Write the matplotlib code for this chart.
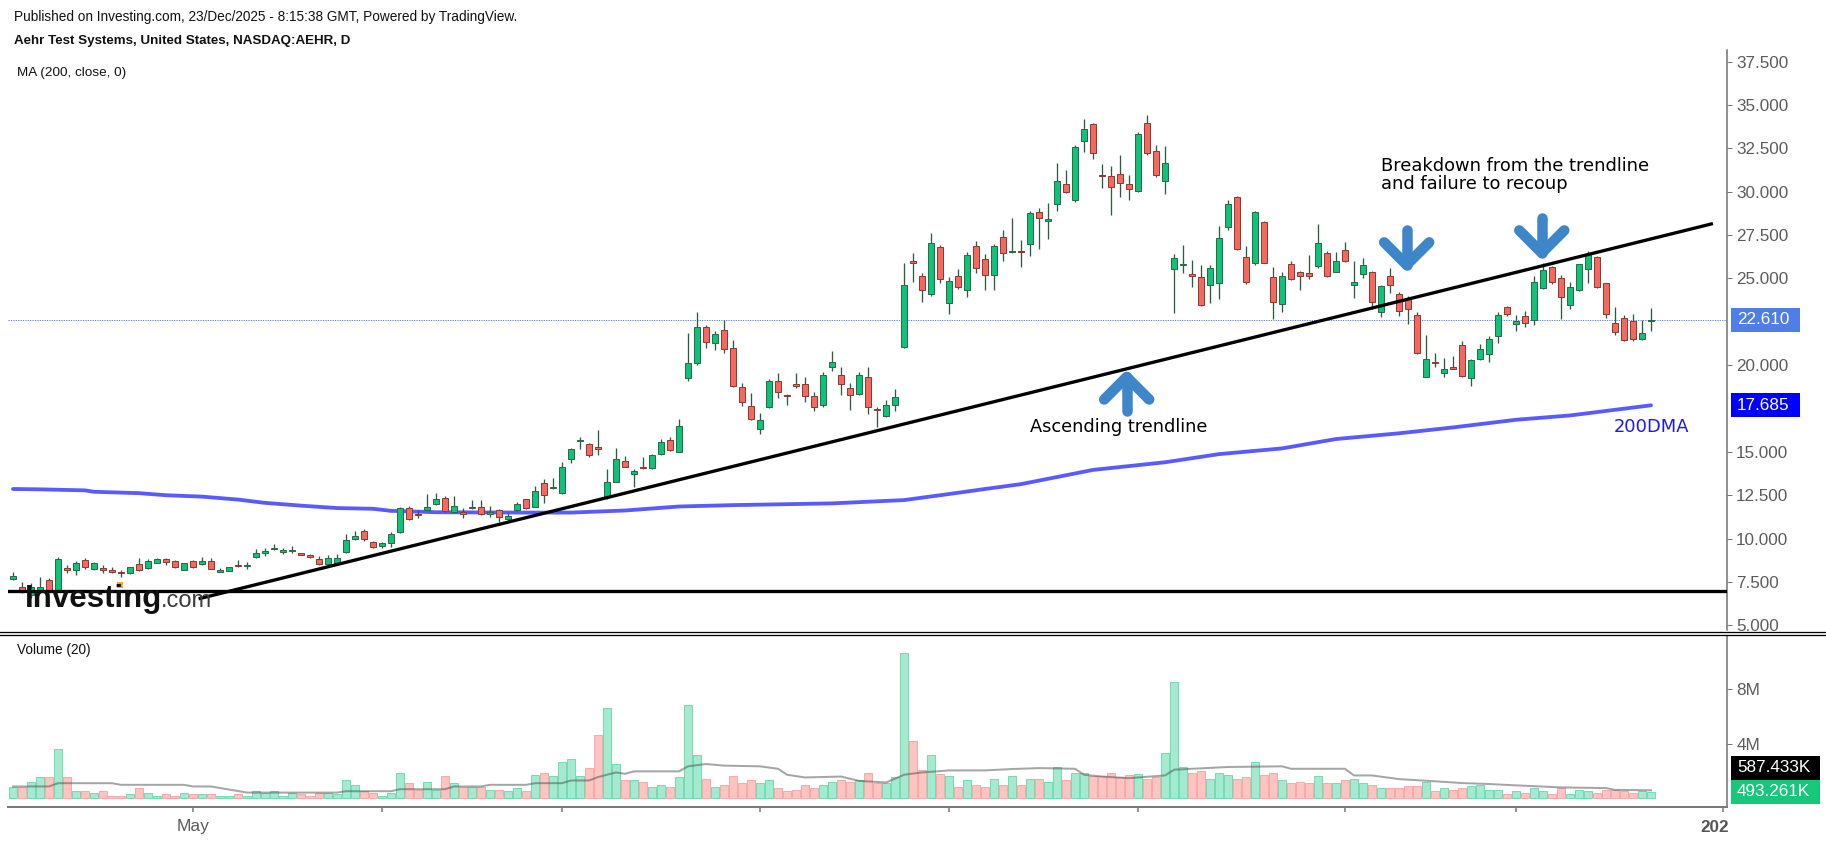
import matplotlib
matplotlib.use("Agg")
import matplotlib.pyplot as plt
import numpy as np
from matplotlib.lines import Line2D
from matplotlib.patches import Rectangle

plt.rcParams['font.family'] = ['Liberation Sans', 'DejaVu Sans']

W, H, DPI = 1826, 842, 100
PT = 72.0 / DPI

# ---------------- data (daily bars, 2 Apr 2025 .. 22 Dec 2025) ----------------
opens = [7.65, 7.23, 6.75, 6.90, 7.61, 7.03, 8.31, 8.20, 8.76, 8.26,
         8.28, 8.18, 8.05, 7.99, 8.53, 8.28, 8.61, 8.80, 8.70, 8.20,
         8.70, 8.51, 8.70, 8.07, 8.15, 8.47, 8.42, 8.95, 9.19, 9.40,
         9.20, 9.26, 9.17, 9.07, 8.80, 8.51, 8.57, 9.20, 9.95, 10.45,
         9.82, 9.59, 9.73, 10.36, 11.74, 11.42, 11.65, 11.97, 12.36, 11.55,
         11.55, 11.74, 11.80, 11.40, 11.65, 11.11, 11.65, 12.26, 11.84, 13.18,
         12.90, 12.65, 14.59, 15.63, 15.45, 15.28, 12.42, 13.28, 14.49, 13.72,
         14.14, 14.05, 14.86, 15.69, 15.01, 19.24, 20.10, 22.22, 21.26, 22.03,
         21.01, 18.76, 17.64, 16.30, 17.61, 19.11, 18.28, 18.91, 18.91, 18.22,
         17.70, 19.87, 19.43, 18.66, 18.32, 19.34, 17.47, 17.09, 17.70, 21.07,
         26.00, 25.14, 24.10, 26.79, 23.57, 25.14, 24.33, 26.87, 26.10, 25.20,
         27.41, 26.50, 26.56, 26.97, 28.85, 28.30, 29.30, 30.43, 29.53, 32.93,
         33.89, 30.95, 30.93, 31.02, 30.43, 30.04, 33.98, 32.35, 30.64, 25.55,
         25.76, 25.26, 25.07, 24.62, 24.72, 27.95, 29.72, 26.26, 25.87, 28.27,
         25.06, 23.51, 25.83, 25.39, 25.33, 25.74, 26.45, 25.39, 26.64, 24.62,
         25.24, 25.39, 23.05, 25.14, 24.10, 23.85, 22.89, 19.34, 20.18, 19.53,
         19.87, 21.16, 19.24, 20.35, 20.62, 21.68, 23.33, 22.35, 22.83, 22.60,
         24.43, 25.68, 25.05, 23.47, 24.33, 25.55, 26.22, 24.72, 22.45, 22.74,
         22.57, 21.49, 22.55]
highs = [8.09, 7.51, 7.42, 7.76, 7.70, 8.92, 8.47, 8.70, 8.90, 8.67,
         8.47, 8.34, 8.19, 8.38, 8.90, 8.80, 8.90, 8.90, 8.76, 8.60,
         8.76, 8.95, 8.90, 8.28, 8.38, 8.76, 8.67, 9.40, 9.44, 9.69,
         9.44, 9.59, 9.19, 9.10, 8.99, 9.05, 9.11, 10.24, 10.45, 10.53,
         9.86, 9.82, 10.36, 11.84, 11.90, 11.65, 12.55, 12.60, 12.45, 12.45,
         11.74, 12.20, 12.20, 11.90, 11.70, 11.45, 12.10, 12.30, 13.03, 13.42,
         13.47, 14.43, 15.20, 15.88, 15.53, 16.26, 13.99, 15.20, 14.78, 13.99,
         14.68, 14.85, 15.72, 15.88, 16.88, 21.87, 23.08, 22.30, 21.97, 22.60,
         21.45, 18.95, 18.41, 17.26, 19.18, 19.53, 18.35, 19.53, 19.30, 18.47,
         19.63, 20.84, 19.87, 18.95, 19.63, 19.87, 17.60, 17.99, 18.61, 25.87,
         26.45, 25.33, 27.60, 26.93, 25.06, 25.53, 26.54, 27.18, 26.41, 26.98,
         27.79, 28.47, 27.22, 28.89, 29.05, 29.33, 31.64, 31.25, 32.70, 34.18,
         33.95, 31.58, 31.49, 32.10, 30.95, 33.46, 34.43, 32.68, 32.64, 26.39,
         26.93, 26.06, 25.78, 25.78, 28.02, 29.52, 29.75, 26.89, 28.87, 28.33,
         25.68, 25.39, 26.02, 25.45, 26.35, 28.14, 26.58, 26.54, 27.08, 26.03,
         26.16, 25.45, 24.62, 25.58, 24.20, 23.99, 23.08, 21.74, 20.72, 20.39,
         20.55, 21.39, 20.35, 21.20, 21.70, 23.08, 23.43, 22.89, 23.14, 25.16,
         25.91, 25.72, 25.20, 24.81, 25.85, 26.58, 26.30, 24.76, 23.37, 22.89,
         22.93, 22.60, 23.28]
lows = [7.61, 6.84, 6.60, 6.85, 6.95, 6.98, 7.99, 7.90, 8.23, 8.20,
        7.99, 7.99, 7.80, 7.97, 8.15, 8.25, 8.58, 8.47, 8.30, 8.18,
        8.30, 8.48, 8.24, 8.05, 8.12, 8.38, 8.24, 8.90, 9.00, 9.36,
        9.10, 9.15, 9.05, 8.90, 8.45, 8.50, 8.50, 9.15, 9.90, 9.88,
        9.44, 9.47, 9.53, 10.30, 11.05, 11.17, 11.60, 11.95, 11.55, 11.45,
        11.17, 11.70, 11.35, 11.26, 10.97, 11.00, 11.60, 11.70, 11.80, 12.03,
        12.88, 12.57, 14.34, 15.17, 14.69, 14.82, 12.30, 13.25, 14.10, 12.99,
        14.00, 14.00, 14.80, 15.05, 14.98, 19.10, 20.00, 20.97, 20.87, 20.68,
        18.75, 17.64, 16.85, 16.03, 17.51, 18.09, 17.70, 18.70, 17.86, 17.37,
        17.60, 19.66, 18.28, 17.42, 18.30, 17.18, 16.45, 17.00, 17.37, 21.00,
        24.81, 23.62, 24.00, 24.76, 22.95, 24.40, 23.95, 25.33, 24.33, 24.33,
        26.03, 26.45, 25.64, 26.31, 26.68, 27.26, 28.91, 29.90, 29.43, 32.27,
        31.87, 30.20, 28.66, 29.68, 29.53, 30.00, 32.10, 30.87, 29.85, 23.03,
        25.30, 24.49, 23.40, 23.56, 23.80, 27.80, 26.65, 24.68, 25.80, 25.87,
        22.66, 23.08, 24.90, 24.33, 24.95, 25.60, 25.10, 25.35, 25.95, 23.89,
        25.00, 23.24, 22.76, 24.14, 22.85, 22.35, 20.65, 19.30, 19.87, 19.30,
        19.75, 19.33, 18.80, 20.30, 20.16, 21.30, 22.85, 21.99, 22.22, 22.30,
        24.40, 24.70, 22.66, 23.22, 24.28, 24.76, 24.45, 22.70, 21.74, 21.40,
        21.40, 21.45, 21.99]
closes = [7.86, 6.90, 7.20, 7.23, 7.00, 8.80, 8.20, 8.57, 8.34, 8.57,
          8.18, 8.07, 7.99, 8.34, 8.19, 8.72, 8.82, 8.67, 8.34, 8.57,
          8.34, 8.70, 8.26, 8.20, 8.34, 8.42, 8.47, 9.19, 9.30, 9.44,
          9.34, 9.34, 9.07, 8.95, 8.51, 8.90, 8.90, 9.92, 10.15, 9.97,
          9.53, 9.73, 10.26, 11.74, 11.11, 11.36, 11.84, 12.28, 11.61, 11.90,
          11.40, 11.84, 11.40, 11.55, 11.22, 11.30, 11.99, 11.74, 12.76, 12.51,
          13.00, 14.14, 15.17, 15.69, 14.84, 15.18, 13.28, 14.59, 14.14, 13.89,
          14.05, 14.82, 15.55, 15.11, 16.49, 20.14, 22.22, 21.32, 21.78, 20.91,
          18.80, 17.86, 16.89, 16.84, 19.09, 18.47, 18.22, 18.82, 18.22, 17.57,
          19.41, 20.20, 18.91, 18.28, 19.43, 17.60, 17.40, 17.70, 18.15, 24.62,
          25.91, 24.33, 27.06, 24.95, 24.87, 24.53, 26.35, 25.58, 25.20, 26.89,
          26.45, 26.60, 26.51, 28.80, 28.50, 28.40, 30.62, 29.99, 32.60, 33.62,
          32.22, 30.90, 30.26, 30.49, 30.14, 33.31, 32.22, 30.97, 31.64, 26.20,
          25.86, 25.12, 23.47, 25.58, 27.31, 29.29, 26.70, 24.78, 28.85, 25.91,
          23.66, 25.14, 24.97, 25.14, 25.14, 27.06, 25.14, 26.01, 26.01, 24.80,
          25.78, 23.66, 24.57, 24.62, 23.14, 23.24, 20.72, 20.37, 20.10, 19.80,
          19.80, 19.39, 20.30, 20.91, 21.51, 22.89, 22.95, 22.55, 22.41, 24.77,
          25.49, 24.77, 23.91, 24.53, 25.83, 26.41, 24.53, 22.95, 21.93, 21.45,
          21.49, 21.87, 22.61]
volumes_m = [0.86, 0.86, 1.19, 1.56, 1.56, 3.63, 1.56, 0.52, 0.52, 0.42,
             0.52, 0.20, 0.20, 0.32, 0.74, 0.42, 0.20, 0.32, 0.20, 0.42,
             0.32, 0.32, 0.32, 0.20, 0.20, 0.32, 0.20, 0.52, 0.42, 0.52,
             0.20, 0.42, 0.32, 0.20, 0.42, 0.42, 0.32, 1.31, 0.99, 0.52,
             0.42, 0.20, 0.42, 1.85, 1.11, 0.62, 1.19, 0.62, 1.65, 1.11,
             0.86, 0.86, 0.86, 0.62, 0.62, 0.52, 0.74, 0.52, 1.73, 1.85,
             1.65, 2.64, 2.89, 1.65, 2.22, 4.64, 6.62, 2.52, 1.31, 1.31,
             1.19, 0.86, 0.99, 0.86, 1.53, 6.86, 3.21, 1.41, 0.86, 0.99,
             1.65, 1.11, 1.31, 1.11, 1.31, 0.74, 0.52, 0.62, 0.99, 0.74,
             0.99, 1.19, 1.31, 1.19, 1.31, 1.85, 1.11, 1.11, 1.53, 10.67,
             4.20, 2.10, 3.21, 1.78, 1.65, 0.86, 1.31, 0.99, 0.86, 1.41,
             0.99, 1.65, 0.99, 1.41, 1.41, 1.19, 2.30, 1.31, 1.85, 1.85,
             1.65, 1.65, 1.85, 1.53, 1.73, 1.78, 1.41, 1.53, 3.33, 8.52,
             2.30, 1.85, 1.98, 1.41, 1.85, 1.73, 1.41, 1.53, 2.64, 1.73,
             1.85, 1.31, 1.11, 1.19, 1.11, 1.65, 1.11, 1.11, 1.31, 1.41,
             1.11, 0.99, 0.74, 0.74, 0.74, 0.88, 0.88, 1.20, 0.55, 0.75,
             0.62, 0.75, 0.88, 0.95, 0.62, 0.62, 0.32, 0.50, 0.42, 0.75,
             0.52, 0.32, 0.75, 0.32, 0.62, 0.52, 0.42, 0.62, 0.62, 0.52,
             0.42, 0.52, 0.493]

# 200-day moving average (bar index, value)
ma200_idx = [0, 3, 8, 9, 14, 17, 21, 25, 28, 32, 36, 40, 42, 47, 56, 62, 68, 74,
             80, 91, 99, 104, 108, 112, 120, 128, 134, 141, 147, 154, 160, 167, 173, 182]
ma200_val = [12.86, 12.84, 12.78, 12.70, 12.62, 12.50, 12.42, 12.25, 12.06, 11.90,
             11.76, 11.72, 11.60, 11.52, 11.50, 11.50, 11.62, 11.85, 11.93, 12.03,
             12.22, 12.57, 12.86, 13.14, 13.96, 14.40, 14.87, 15.20, 15.74, 16.07,
             16.41, 16.85, 17.10, 17.685]

# 20-day volume average (bar index, millions)
vma_idx = [0, 4, 5, 11, 12, 19, 20, 22, 26, 36, 37, 42, 43, 48, 49, 52, 53, 57, 58, 61,
           62, 64, 65, 67, 68, 69, 74, 75, 77, 79, 83, 85, 86, 88, 92, 94, 97, 99, 101, 104,
           108, 111, 114, 118, 119, 121, 124, 128, 129, 131, 135, 141, 142, 148, 149, 151,
           154, 158, 161, 164, 167, 172, 177, 178, 182]
vma_val = [0.87, 0.87, 1.11, 1.11, 0.99, 0.99, 0.87, 0.87, 0.42, 0.42,
           0.52, 0.52, 0.67, 0.67, 0.87, 0.87, 0.99, 0.99, 1.11, 1.11,
           1.31, 1.31, 1.56, 1.90, 1.80, 1.98, 1.98, 2.35, 2.52, 2.40,
           2.35, 2.17, 1.73, 1.53, 1.60, 1.28, 1.16, 1.73, 1.90, 2.05,
           2.05, 2.15, 2.22, 2.17, 1.73, 1.60, 1.48, 1.68, 2.10, 2.17,
           2.30, 2.35, 2.17, 2.17, 1.68, 1.68, 1.41, 1.25, 1.12, 1.05,
           0.95, 0.80, 0.75, 0.62, 0.587]

month_ticks = [20, 41, 61, 83, 104, 125, 148, 167, 190]
month_labels = ['May', '', '', '', '', '', '', '', '']
price_ticks = [5.0, 7.5, 10.0, 12.5, 15.0, 20.0, 25.0, 27.5, 30.0, 32.5, 35.0, 37.5]
vol_ticks = [4, 8]
vol_tick_labels = ['4M', '8M']

support_level = 6.98
trend_x = [20.8, 188.7]
trend_y = [6.55, 28.14]
last_close = 22.61
ma_last = 17.685
vol_last = 0.493261
vma_last = 0.587433

# annotation arrows: (bar x, tail price, tip price, arm price, arm half-width in bars)
arrows = [(154.85, 27.79, 25.78, 27.08, 2.5),
          (169.86, 28.49, 26.47, 27.77, 2.5),
          (123.74, 17.36, 19.32, 18.02, 2.5)]

# ---------------- figure ----------------
fig = plt.figure(figsize=(W / DPI, H / DPI), dpi=DPI)
fig.patch.set_facecolor('white')


def fx(px):
    return px / W


def fy(py):
    return 1 - py / H


AX_L, AX_R = 8, 1727
ax = fig.add_axes([fx(AX_L), fy(630), (AX_R - AX_L) / W, (630 - 50) / H])
axv = fig.add_axes([fx(AX_L), fy(807), (AX_R - AX_L) / W, (807 - 636) / H])

XMIN, XMAX = -0.556, 190.44
for a in (ax, axv):
    a.set_xlim(XMIN, XMAX)
    a.set_facecolor('none')
    for s in a.spines.values():
        s.set_visible(False)
ax.set_ylim(4.73, 38.17)
axv.set_ylim(-0.64, 11.93)

o = np.array(opens)
h = np.array(highs)
l = np.array(lows)
c = np.array(closes)
v = np.array(volumes_m)
idx = np.arange(len(o))
up = c >= o

GREEN = '#0fc27a'
GREEN_EDGE = '#2f6a48'
RED = '#f4695d'
RED_EDGE = '#8c3b37'
WICK = '#2d5b40'

# lines behind candles
ax.axhline(last_close, color='#5b80e8', lw=1.0 * PT, ls=(0, (1.2, 1.2)), zorder=1)
ax.plot(ma200_idx, ma200_val, color='#5a5aff', lw=3.8 * PT, zorder=1.5,
        solid_capstyle='round', solid_joinstyle='round')

# candles
ax.vlines(idx, l, h, color=WICK, lw=1.3 * PT, zorder=2)
bottom = np.minimum(o, c)
height = np.maximum(np.abs(c - o), 0.07)
ax.bar(idx[up], height[up], bottom=bottom[up], width=0.7, color=GREEN,
       edgecolor=GREEN_EDGE, linewidth=1.0 * PT, zorder=3)
ax.bar(idx[~up], height[~up], bottom=bottom[~up], width=0.7, color=RED,
       edgecolor=RED_EDGE, linewidth=1.0 * PT, zorder=3)

# drawings
ax.axhline(support_level, color='black', lw=3.3 * PT, zorder=4)
ax.plot(trend_x, trend_y, color='black', lw=3.3 * PT, zorder=4)

ARROW_C = '#3d86c9'
for (xa, tail, tip, arm, dx) in arrows:
    kw = dict(color=ARROW_C, lw=10.5 * PT, solid_capstyle='round',
              solid_joinstyle='round', zorder=6)
    ax.plot([xa, xa], [tail, tip], **kw)
    ax.plot([xa - dx, xa, xa + dx], [arm, tip, arm], **kw)

# price axis
ax.spines['right'].set_visible(True)
ax.spines['right'].set_color('#6f6f6f')
ax.spines['right'].set_linewidth(1.5 * PT)
ax.yaxis.tick_right()
ax.set_yticks(price_ticks)
ax.set_yticklabels(['%.3f' % t for t in price_ticks])
ax.tick_params(axis='y', direction='out', length=5 * PT, width=1.0 * PT,
               colors='#777777', labelcolor='#5c5c5c', labelsize=12.3, pad=3)
ax.tick_params(axis='x', bottom=False, labelbottom=False)

# volume panel
vcol = np.where(up, '#a4ead0', '#fdc4c1')
vedge = np.where(up, '#74dcb0', '#f8aaa6')
axv.bar(idx, v, width=0.86, color=vcol, edgecolor=vedge, linewidth=1.0 * PT, zorder=2)
axv.plot(vma_idx, vma_val, color='#4d4d4d', alpha=0.5, lw=2.0 * PT, zorder=3)

axv.spines['right'].set_visible(True)
axv.spines['right'].set_color('#6f6f6f')
axv.spines['right'].set_linewidth(1.5 * PT)
axv.spines['bottom'].set_visible(True)
axv.spines['bottom'].set_color('#7a7a7a')
axv.spines['bottom'].set_linewidth(2.0 * PT)
axv.yaxis.tick_right()
axv.set_yticks(vol_ticks)
axv.set_yticklabels(vol_tick_labels)
axv.tick_params(axis='y', direction='out', length=5 * PT, width=1.0 * PT,
                colors='#777777', labelcolor='#5c5c5c', labelsize=12.3, pad=3)
axv.set_xticks(month_ticks)
axv.set_xticklabels(month_labels)
axv.tick_params(axis='x', direction='out', length=5 * PT, width=1.5 * PT,
                colors='#777777', labelcolor='#5c5c5c', labelsize=12.5, pad=5)

# panel separator (double line)
for yy in (632.3, 635.0):
    fig.add_artist(Line2D([0, 1], [fy(yy), fy(yy)], transform=fig.transFigure,
                          color='black', lw=1.3 * PT))

# header texts
fig.text(fx(14), fy(17), 'Published on Investing.com, 23/Dec/2025 - 8:15:38 GMT, Powered by TradingView.',
         fontsize=9.8, color='#111111', va='center', ha='left')
fig.text(fx(14), fy(41), 'Aehr Test Systems, United States, NASDAQ:AEHR, D',
         fontsize=9.6, fontweight='bold', color='#111111', va='center', ha='left')
fig.text(fx(17), fy(73), 'MA (200, close, 0)', fontsize=9.7, color='#111111', va='center', ha='left')
fig.text(fx(17), fy(650), 'Volume (20)', fontsize=9.8, color='#111111', va='center', ha='left')

# bottom clipped year label
fig.text(fx(1729), fy(827), '202', fontsize=12.3, fontweight='bold', color='#555555',
         va='center', ha='right')

# annotations
ANN_FONT = 'DejaVu Sans'
fig.text(fx(1381), fy(189), 'Breakdown from the trendline\nand failure to recoup',
         fontsize=12.9, family=ANN_FONT, color='black', va='baseline', ha='left', linespacing=1.0)
fig.text(fx(1030), fy(432), 'Ascending trendline', fontsize=12.8, family=ANN_FONT,
         color='black', va='baseline', ha='left')
fig.text(fx(1614), fy(432), '200DMA', fontsize=12.9, family=ANN_FONT,
         color='#1a1af0', va='baseline', ha='left')

# logo
fig.text(fx(25), fy(607), 'Investing', fontsize=22.5, fontweight='heavy', color='#111111',
         va='baseline', ha='left')
fig.text(fx(161), fy(607), '.com', fontsize=17, color='#3a3a3a', va='baseline', ha='left')
fig.add_artist(Line2D([fx(120)], [fy(585)], transform=fig.transFigure, marker='s',
                      markersize=4.5, color='#f5a623', markeredgewidth=0))


# right side value labels
def value_box(y_center_px, text, face, x0=1731, x1=1800, hbox=24):
    fig.add_artist(Rectangle((fx(x0), fy(y_center_px + hbox / 2)), (x1 - x0) / W, hbox / H,
                             transform=fig.transFigure, facecolor=face, edgecolor='none', zorder=8))
    fig.text(fx(x0 + 6), fy(y_center_px), text, color='white', fontsize=12.3,
             va='center', ha='left', zorder=9)


def data_to_py(a, yval):
    return H - a.transData.transform((0, yval))[1]


value_box(data_to_py(ax, last_close), '%.3f' % last_close, '#4f7fe6')
value_box(data_to_py(ax, ma_last), '%.3f' % ma_last, '#0000ff')
y_vol = data_to_py(axv, vol_last)
value_box(y_vol, '%.3fK' % (vol_last * 1000), '#17c77a', x1=1820)
value_box(y_vol - 24, '%.3fK' % (vma_last * 1000), '#000000', x1=1820)

fig.savefig('out.png', dpi=DPI, facecolor='white')
